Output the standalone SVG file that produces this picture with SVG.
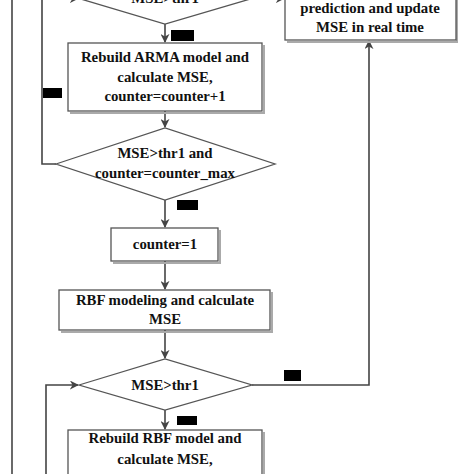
<svg xmlns="http://www.w3.org/2000/svg" width="474" height="474" viewBox="0 0 474 474">
<style>
.box{fill:#fff;stroke:#555;stroke-width:1.3}
.sh{fill:none;stroke:#aaa;stroke-width:2}
.t{font-family:"Liberation Serif","Times New Roman",serif;font-weight:bold;font-size:14.8px;fill:#111;text-anchor:middle}
.ln{fill:none;stroke:#444;stroke-width:1.6}
.lab{fill:#000}
</style>
<defs>
<marker id="ah" viewBox="0 0 10 10" refX="9" refY="5" markerWidth="9" markerHeight="9" markerUnits="userSpaceOnUse" orient="auto">
<path d="M0,0 L10,5 L0,10 L3,5 z" fill="#444"/>
</marker>
</defs>
<rect width="474" height="474" fill="#fff"/>
<g id="connectors">
<line class="ln" x1="12" y1="-5" x2="12" y2="480"/>
<polyline class="ln" points="56,164 42,164 42,-1.5 78,-1.5" marker-end="url(#ah)"/>
<line class="ln" x1="252" y1="-1.5" x2="284" y2="-1.5" marker-end="url(#ah)"/>
<line class="ln" x1="165" y1="24" x2="165" y2="42" marker-end="url(#ah)"/>
<line class="ln" x1="165" y1="111" x2="165" y2="127" marker-end="url(#ah)"/>
<line class="ln" x1="165" y1="200" x2="165" y2="227" marker-end="url(#ah)"/>
<line class="ln" x1="165" y1="261" x2="165" y2="289" marker-end="url(#ah)"/>
<line class="ln" x1="165" y1="330" x2="165" y2="358" marker-end="url(#ah)"/>
<line class="ln" x1="165" y1="410" x2="165" y2="429" marker-end="url(#ah)"/>
<polyline class="ln" points="252,385 369,385 369,41" marker-end="url(#ah)"/>
<polyline class="ln" points="46,480 46,385 78,385" marker-end="url(#ah)"/>
<rect class="lab" x="171" y="30" width="23" height="11"/>
<rect class="lab" x="43" y="88" width="19" height="10"/>
<rect class="lab" x="177" y="200" width="21" height="10"/>
<rect class="lab" x="284" y="370" width="17" height="11"/>
<rect class="lab" x="177" y="416" width="20" height="9"/>
</g>
<g id="d1">
<polygon class="box" points="79,-1.5 165,-27 252,-1.5 165,24"/>
<text class="t" x="165" y="3">MSE&gt;thr1</text>
</g>
<g id="predict">
<polyline class="sh" points="287,42 457,42 457,-10"/>
<rect class="box" x="285" y="-30" width="171" height="70"/>
<text class="t" x="370" y="13">prediction and update</text>
<text class="t" x="370" y="32">MSE in real time</text>
</g>
<g id="arma">
<polyline class="sh" points="70,113 264,113 264,45"/>
<rect class="box" x="68" y="43" width="194" height="68"/>
<text class="t" x="165" y="62">Rebuild ARMA model and</text>
<text class="t" x="165" y="82">calculate MSE,</text>
<text class="t" x="165" y="101">counter=counter+1</text>
</g>
<g id="d2">
<polygon class="box" points="56,164 165,128 275,164 165,200"/>
<text class="t" x="165" y="158">MSE&gt;thr1 and</text>
<text class="t" x="165" y="178">counter=counter_max</text>
</g>
<g id="counter1">
<polyline class="sh" points="113,263 220,263 220,230"/>
<rect class="box" x="111" y="228" width="107" height="33"/>
<text class="t" x="165" y="249">counter=1</text>
</g>
<g id="rbf">
<polyline class="sh" points="61,332 272,332 272,292"/>
<rect class="box" x="59" y="290" width="211" height="40"/>
<text class="t" x="165" y="305">RBF modeling and calculate</text>
<text class="t" x="165" y="324">MSE</text>
</g>
<g id="d3">
<polygon class="box" points="79,385 165,359 252,385 165,410"/>
<text class="t" x="165" y="390">MSE&gt;thr1</text>
</g>
<g id="rbfrebuild">
<polyline class="sh" points="264,432 264,480"/>
<rect class="box" x="68" y="430" width="194" height="60"/>
<text class="t" x="165" y="443">Rebuild RBF model and</text>
<text class="t" x="165" y="464">calculate MSE,</text>
</g>
</svg>
